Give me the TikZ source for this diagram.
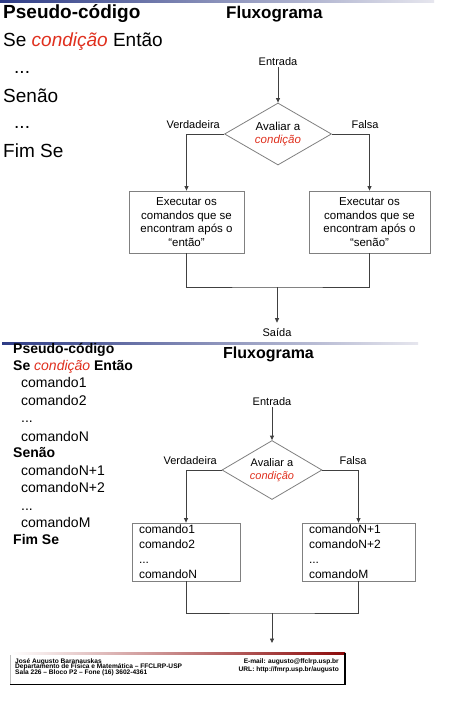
\documentclass[tikz,border=0pt]{standalone}
\usepackage{fontspec}
\setmainfont{Liberation Sans}
\usetikzlibrary{shapes.geometric,arrows.meta}
\definecolor{condred}{HTML}{E0301E}
\definecolor{linegray}{HTML}{404040}
\definecolor{boxgray}{HTML}{808080}
\definecolor{barblue}{HTML}{2E3C86}
\definecolor{barlight}{HTML}{E6E6EE}
\definecolor{footred}{HTML}{8C0A0A}
\newcommand\myfs[2]{\fontsize{#1}{#2}\selectfont}
\begin{document}
\begin{tikzpicture}[x=1pt,y=-1pt,
  pbig/.style={font=\myfs{19}{22}, inner sep=0, anchor=base west},
  pbigb/.style={font=\bfseries\myfs{19}{22}, inner sep=0, anchor=base west},
  psm/.style={font=\myfs{14}{16}, inner sep=0, anchor=base west},
  psmb/.style={font=\bfseries\myfs{14}{16}, inner sep=0, anchor=base west},
  lbl/.style={font=\myfs{11}{13}, inner sep=2pt},
  conn/.style={draw=linegray, line width=0.8pt},
  arr/.style={conn, -{Triangle[length=4.5pt,width=4pt]}},
  dia/.style={diamond, draw=boxgray, line width=0.8pt, inner sep=0, aspect=1.7, align=center},
  boxa/.style={draw=boxgray, line width=0.8pt, inner sep=0, align=center, font=\myfs{11.5}{13.5}},
  boxb/.style={draw=boxgray, line width=0.8pt, inner ysep=0, inner xsep=7pt, align=left, font=\myfs{12}{15}},
  ftxt/.style={font=\bfseries\myfs{6.6}{6.8}, inner sep=0}
]
\useasboundingbox (0,0) rectangle (474,704);
\fill[white] (0,0) rectangle (474,704);

% top bar
\shade[left color=barblue, right color=barlight] (0,0) rectangle (434,2.5);

% ---------- top pseudo-code ----------
\node[pbigb] (pc1) at (3,18) {Pseudo-código};
\node[pbig] (se1) at (3,46) {Se \textcolor{condred}{\itshape condição} Então};
\node[pbig] (d1a) at (14,73) {...};
\node[pbig] (sen1) at (3,102) {Senão};
\node[pbig] (d1b) at (14,128) {...};
\node[pbig] (fim1) at (3,157) {Fim Se};
\node[font=\bfseries\myfs{17}{20}, inner sep=0, anchor=base west] (fx1) at (226,18) {Fluxograma};

% ---------- top flowchart ----------
\node[lbl, anchor=base] (ent1) at (278,65) {Entrada};
\node[dia, minimum width=107pt, minimum height=62pt, font=\myfs{11.5}{13}] (dia1) at (278,134) {Avaliar a\\\textcolor{condred}{\itshape condição}};
\node[lbl, anchor=base east] (ver1) at (222,128) {Verdadeira};
\node[lbl, anchor=base] (fal1) at (365,128) {Falsa};
\node[boxa, minimum width=115pt, minimum height=62pt] (b11) at (186.5,222) {Executar os\\comandos que se\\encontram após o\\“então”};
\node[boxa, minimum width=121pt, minimum height=62pt] (b12) at (369.5,222) {Executar os\\comandos que se\\encontram após o\\“senão”};
\coordinate (m1) at (277,287);
\node[lbl, anchor=base] (sai1) at (277,336) {Saída};
\draw[arr] (ent1) -- (dia1);
\draw[arr] (dia1.west) -| (b11.north);
\draw[arr] (dia1.east) -| (b12.north);
\draw[conn] (b11.south) |- (m1) -| (b12.south);
\draw[arr, shorten >=3pt] (m1) -- (sai1);

% divider
\shade[left color=barblue, right color=barlight] (2,342) rectangle (418,344.5);

% ---------- bottom pseudo-code ----------
\node[psmb] (pc2) at (13,353) {Pseudo-código};
\node[psm] (se2) at (13,370) {\textbf{Se} \textcolor{condred}{\itshape condição} \textbf{Então}};
\node[psm] (c1) at (21,387) {comando1};
\node[psm] (c2) at (21,405) {comando2};
\node[psm] (c3) at (21,422) {...};
\node[psm] (c4) at (21,441) {comandoN};
\node[psmb] (sen2) at (13,457) {Senão};
\node[psm] (c5) at (21,475) {comandoN+1};
\node[psm] (c6) at (21,492) {comandoN+2};
\node[psm] (c7) at (21,510) {...};
\node[psm] (c8) at (21,527) {comandoM};
\node[psmb] (fim2) at (13,544) {Fim Se};
\node[font=\bfseries\myfs{16}{19}, inner sep=0, anchor=base west] (fx2) at (223,358) {Fluxograma};

% ---------- bottom flowchart ----------
\node[lbl, anchor=base] (ent2) at (272,405) {Entrada};
\node[dia, minimum width=100pt, minimum height=59pt, font=\myfs{11}{12.5}] (dia2) at (272,470) {Avaliar a\\\textcolor{condred}{\itshape condição}};
\node[lbl, anchor=base east] (ver2) at (219,464) {Verdadeira};
\node[lbl, anchor=base] (fal2) at (353,464) {Falsa};
\node[boxb, minimum width=108pt, minimum height=58pt, text width=94pt] (b21) at (186,552) {comando1\\comando2\\...\\comandoN};
\node[boxb, minimum width=113pt, minimum height=58pt, text width=99pt] (b22) at (358.5,552) {comandoN+1\\comandoN+2\\...\\comandoM};
\coordinate (m2) at (272,613);
\coordinate (e2) at (272,643);
\draw[arr] (ent2) -- (dia2);
\draw[arr] (dia2.west) -| (b21.north);
\draw[arr] (dia2.east) -| (b22.north);
\draw[conn] (b21.south) |- (m2) -| (b22.south);
\draw[arr] (m2) -- (e2);

% ---------- footer ----------
\draw[gray!50, line width=0.6pt] (10,653) rectangle (345,684);
\shade[left color=white, right color=footred] (10,652.5) rectangle (345,654.5);
\draw[black, line width=1.2pt] (345,652.5) -- (345,684.5) -- (10,684.5);
\node[ftxt, anchor=base west] (f1) at (15,663) {José Augusto Baranauskas};
\node[ftxt, anchor=base west] (f2) at (15,668.8) {Departamento de Física e Matemática – FFCLRP-USP};
\node[ftxt, anchor=base west] (f3) at (15,674.6) {Sala 226 – Bloco P2 – Fone (16) 3602-4361};
\node[ftxt, anchor=base east] (f4) at (339,663) {E-mail: augusto@ffclrp.usp.br};
\node[ftxt, anchor=base east] (f5) at (339,671) {URL: http://fmrp.usp.br/augusto};
\end{tikzpicture}
\end{document}
